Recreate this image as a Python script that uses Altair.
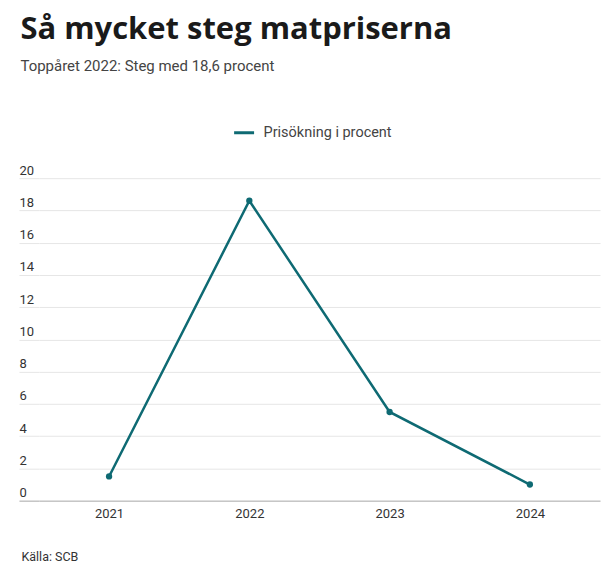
import altair as alt
import pandas as pd

years = ["2021", "2022", "2023", "2024"]
values = [1.5, 18.6, 5.5, 1.0]
series_name = "Prisökning i procent"
y_ticks = [0, 2, 4, 6, 8, 10, 12, 14, 16, 18, 20]

df = pd.DataFrame({"År": years, "Procent": values, "Serie": [series_name] * len(years)})

teal = "#0e6a73"
font = "Roboto"

x_enc = alt.X(
    "År:O",
    scale=alt.Scale(type="point", padding=0.5),
    axis=alt.Axis(
        title="Källa: SCB",
        domain=False,
        ticks=False,
        grid=False,
        labelAngle=0,
        labelPadding=7,
        labelFontSize=13,
        labelFont=font,
        labelColor="#333333",
        titleAnchor="start",
        titleAlign="left",
        titleX=-18,
        titleY=60,
        titleBaseline="alphabetic",
        titleFont=font,
        titleFontSize=12.5,
        titleFontWeight="normal",
        titleColor="#333333",
    ),
)

y_enc = alt.Y(
    "Procent:Q",
    scale=alt.Scale(domain=[0, 20], nice=False),
    axis=alt.Axis(
        title=None,
        values=y_ticks,
        domain=False,
        ticks=True,
        tickSize=20,
        tickColor={"condition": {"test": "datum.value === 0", "value": "#a6a6a6"}, "value": "#e6e6e6"},
        gridColor={"condition": {"test": "datum.value === 0", "value": "#a6a6a6"}, "value": "#e6e6e6"},
        gridWidth=1,
        labelAlign="left",
        labelPadding=0,
        labelBaseline="alphabetic",
        labelOffset=-4,
        labelFontSize=13,
        labelFont=font,
        labelColor="#333333",
    ),
)

base = alt.Chart(df)

line = base.mark_line(strokeWidth=2.5).encode(
    x=x_enc,
    y=y_enc,
    color=alt.Color(
        "Serie:N",
        scale=alt.Scale(range=[teal]),
        legend=alt.Legend(
            title=None,
            orient="none",
            legendX=194,
            legendY=-57,
            direction="horizontal",
            symbolType="stroke",
            symbolSize=400,
            symbolStrokeWidth=3,
            labelFontSize=14.5,
            labelFont=font,
            labelColor="#444444",
            labelOffset=8,
        ),
    ),
)

points = base.mark_circle(size=40, opacity=1, color=teal).encode(x=x_enc, y=y_enc)

chart = (
    alt.layer(line, points)
    .properties(
        width=562,
        height=323,
        background="white",
        padding={"left": 18, "right": 13, "top": 14, "bottom": 10},
        title=alt.TitleParams(
            text="Så mycket steg matpriserna",
            subtitle="Toppåret 2022: Steg med 18,6 procent",
            anchor="start",
            frame="bounds",
            dx=2,
            font="Open Sans",
            fontSize=31,
            fontWeight="bold",
            color="#1a1a1a",
            subtitleFont=font,
            subtitleFontSize=15,
            subtitleColor="#444444",
            subtitlePadding=13,
            offset=46,
        ),
    )
    .configure_view(strokeWidth=0, stroke="transparent")
)

chart.save("out.html", embed_options={"renderer": "svg", "actions": False})
